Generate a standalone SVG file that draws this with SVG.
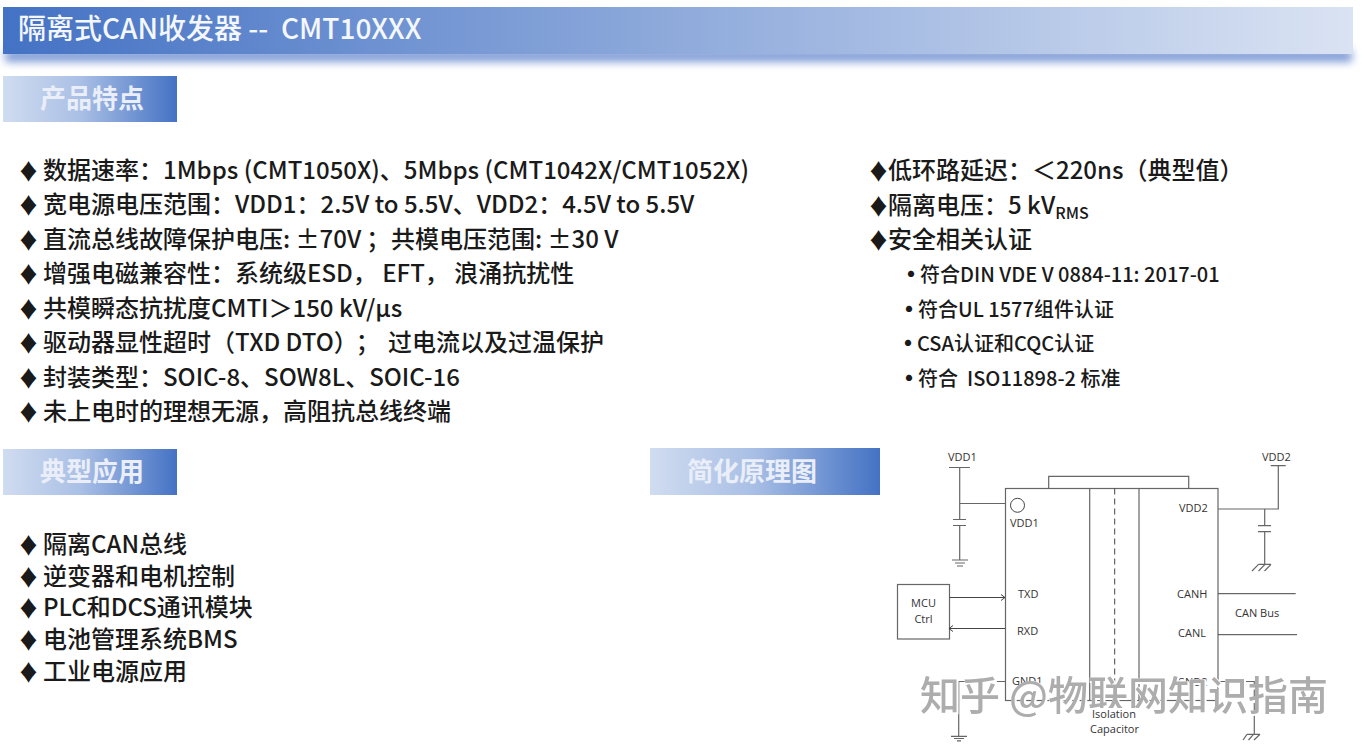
<svg xmlns="http://www.w3.org/2000/svg" width="1362" height="750" viewBox="0 0 1362 750">
<style>
text{font-family:"Noto Sans CJK SC","Noto Sans",sans-serif;}
.b{font-size:24px;fill:#1a1a1a;font-weight:500;}
.s{font-size:20px;fill:#1a1a1a;font-weight:500;}
.h{font-size:26px;fill:#e9eef8;font-weight:700;text-anchor:middle;}
.d{font-family:"Open Sans","Noto Sans",sans-serif;font-size:11px;fill:#333;}
.l{stroke:#666;stroke-width:1.2;fill:none;}
.k{stroke:#444;stroke-width:1;fill:none;}
.w{font-size:40px;font-weight:500;}
.m{font-size:22px;}
.p{font-size:27px;}
</style>
<defs>
<linearGradient id="t"><stop offset="0" stop-color="#4472c4"/><stop offset="1" stop-color="#dae3f3"/></linearGradient>
<linearGradient id="g"><stop offset="0" stop-color="#d0dcf0"/><stop offset="0.45" stop-color="#a9bfe5"/><stop offset="1" stop-color="#4472c4"/></linearGradient>
<filter id="sh" x="-2%" y="-60%" width="104%" height="220%"><feGaussianBlur stdDeviation="4"/></filter>
<filter id="wm" x="-5%" y="-20%" width="110%" height="140%"><feGaussianBlur stdDeviation="0.5"/></filter>
<marker id="a" markerWidth="6" markerHeight="8" refX="5" refY="4" orient="auto"><path d="M1 1L5 4L1 7" fill="none" stroke="#444" stroke-width="1"/></marker>
</defs>
<g id="title">
<rect x="5" y="50" width="1347" height="12" fill="#7f9bd6" filter="url(#sh)"/>
<rect x="3" y="7" width="1350" height="47" fill="url(#t)"/>
<text x="18" y="39" font-weight="500" fill="#f4f7fc" style="font-size:28px">隔离式CAN收发器 --<tspan x="281">CMT10XXX</tspan></text>
</g>
<g id="h1"><rect x="3" y="76" width="174" height="46" fill="url(#g)"/><text class="h" x="92" y="108">产品特点</text></g>
<g id="h2"><rect x="3" y="449" width="174" height="46" fill="url(#g)"/><text class="h" x="92" y="481">典型应用</text></g>
<g id="h3"><rect x="650" y="448" width="230" height="47" fill="url(#g)"/><text class="h" x="752" y="481">简化原理图</text></g>
<g id="features">
<text class="b" x="17.500" y="179"><tspan class="m">♦</tspan><tspan x="43">数据速率：1Mbps (CMT1050X)、5Mbps (CMT1042X/CMT1052X)</tspan></text>
<text class="b" x="17.500" y="213"><tspan class="m">♦</tspan><tspan x="43">宽电源电压范围：VDD1：2.5V to 5.5V、VDD2：4.5V to 5.5V</tspan></text>
<text class="b" x="17.500" y="248"><tspan class="m">♦</tspan><tspan x="43">直流总线故障保护电压: ±70V</tspan><tspan dx="5">；</tspan><tspan x="391">共模电压范围: ±30 V</tspan></text>
<text class="b" x="17.500" y="282"><tspan class="m">♦</tspan><tspan x="43">增强电磁兼容性：系统级ESD， EFT， 浪涌抗扰性</tspan></text>
<text class="b" x="17.500" y="317"><tspan class="m">♦</tspan><tspan x="43">共模瞬态抗扰度CMTI＞150 kV/μs</tspan></text>
<text class="b" x="17.500" y="351"><tspan class="m">♦</tspan><tspan x="43">驱动器显性超时（TXD DTO）</tspan><tspan dx="10">；</tspan><tspan x="388">过电流以及过温保护</tspan></text>
<text class="b" x="17.500" y="386"><tspan class="m">♦</tspan><tspan x="43">封装类型：SOIC-8、SOW8L、SOIC-16</tspan></text>
<text class="b" x="17.500" y="420"><tspan class="m">♦</tspan><tspan x="43">未上电时的理想无源，高阻抗总线终端</tspan></text>
</g>
<g id="features2">
<text class="b" x="867.500" y="179"><tspan class="m">♦</tspan><tspan x="888">低环路延迟：＜220ns（典型值）</tspan></text>
<text class="b" x="867.500" y="214"><tspan class="m">♦</tspan><tspan x="888">隔离电压：5 kV</tspan><tspan font-size="16" dy="5">RMS</tspan></text>
<text class="b" x="867.500" y="248"><tspan class="m">♦</tspan><tspan x="888">安全相关认证</tspan></text>
<text class="s" x="897.500" y="284"><tspan class="p">•</tspan><tspan x="920" y="282">符合DIN VDE V 0884-11: 2017-01</tspan></text>
<text class="s" x="895.500" y="319"><tspan class="p">•</tspan><tspan x="918" y="317">符合UL 1577组件认证</tspan></text>
<text class="s" x="894.500" y="353"><tspan class="p">•</tspan><tspan x="917" y="351">CSA认证和CQC认证</tspan></text>
<text class="s" x="895.500" y="388"><tspan class="p">•</tspan><tspan x="918" y="386">符合</tspan><tspan x="967">ISO11898-2 标准</tspan></text>
</g>
<g id="apps">
<text class="b" x="17.500" y="553"><tspan class="m">♦</tspan><tspan x="43">隔离CAN总线</tspan></text>
<text class="b" x="17.500" y="585"><tspan class="m">♦</tspan><tspan x="43">逆变器和电机控制</tspan></text>
<text class="b" x="17.500" y="616"><tspan class="m">♦</tspan><tspan x="43">PLC和DCS通讯模块</tspan></text>
<text class="b" x="17.500" y="648"><tspan class="m">♦</tspan><tspan x="43">电池管理系统BMS</tspan></text>
<text class="b" x="17.500" y="680"><tspan class="m">♦</tspan><tspan x="43">工业电源应用</tspan></text>
</g>
<g id="isolator">
<rect class="l" x="1005.500" y="488.500" width="212.500" height="212"/>
<path class="l" d="M1089.700 488.500V700M1139 488.500V700M1048.700 488.500V476.300H1188.700V488.500"/>
<path class="k" d="M1114.700 488.500V700" stroke-dasharray="6 4"/>
<circle class="k" cx="1017.500" cy="505.300" r="7"/>
<text class="d" x="1010" y="527">VDD1</text>
<text class="d" x="1018" y="598">TXD</text>
<text class="d" x="1017" y="635">RXD</text>
<text class="d" x="1179" y="512">VDD2</text>
<text class="d" x="1177" y="598">CANH</text>
<text class="d" x="1178" y="637">CANL</text>
</g>
<g id="mcu">
<rect class="l" x="897.500" y="584.500" width="52" height="54.500"/>
<text class="d" x="923.500" y="607" text-anchor="middle">MCU</text>
<text class="d" x="923.500" y="623" text-anchor="middle">Ctrl</text>
</g>
<g id="connectors">
<path class="k" d="M949.500 597.500H1005" marker-end="url(#a)"/>
<path class="k" d="M1005 628.500H949" marker-end="url(#a)"/>
<path class="l" d="M949 467.500H970M959.700 467.500V503.500H1005M959.700 503.500V519M953 519.500H966M953 525.500H966M959.700 526V560M952 560H968M955 563H965M957 566H963"/>
<path class="l" d="M1270.700 465.700H1285.700M1278.300 465.700V509H1218M1264.700 509V525M1258 525.700H1271M1258 531.700H1271M1264.700 532V564M1258.500 564.300H1271M1258.500 564.300L1252 571M1265 564.300L1258.500 571M1271 564.300L1264.500 571"/>
<path class="k" d="M1218 593.700H1295.700M1218 634.700H1297"/>
<path class="l" d="M1005 681.500H958.700V736M951 736.300H967M954 738.500H964M957 740.800H961"/>
<path class="l" d="M1218 681.500H1254.300V734M1247 734.300H1260M1247 734.300L1243 740M1253.500 734.300L1248.500 740M1260 734.300L1254 740"/>
</g>
<g id="labels">
<text class="d" x="948" y="461">VDD1</text>
<text class="d" x="1262" y="461">VDD2</text>
<text class="d" x="1235" y="617">CAN Bus</text>
<text class="d" x="1012" y="685">GND1</text>
<text class="d" x="1177" y="686">GND2</text>
</g>
<g id="watermark" filter="url(#wm)">
<text class="w" x="921" y="711" style="fill:#fff;stroke:#fff;stroke-width:2">知乎 @物联网知识指南</text>
<text class="w" x="920" y="710" style="fill:#adadad">知乎 @物联网知识指南</text>
</g>
<g id="isolation">
<rect x="1085" y="708" width="60" height="28" fill="#fff"/>
<text class="d" x="1092" y="718">Isolation</text>
<text class="d" x="1090" y="733">Capacitor</text>
</g>
</svg>
